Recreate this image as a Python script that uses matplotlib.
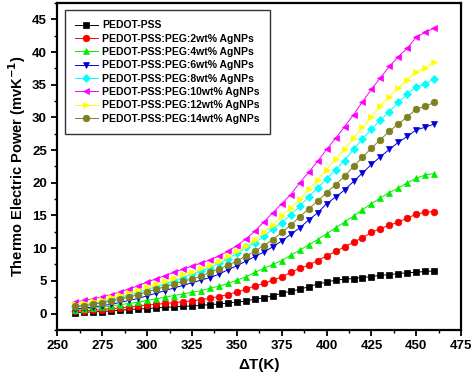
import matplotlib.pyplot as plt
from matplotlib.ticker import MultipleLocator

plt.rcParams['font.family'] = ['Liberation Sans', 'DejaVu Sans']
plt.rcParams['font.weight'] = 'bold'

# temperatura (roznica) - os x
dT = [260, 265, 270, 275, 280, 285, 290, 295, 300, 305, 310, 315, 320, 325,
      330, 335, 340, 345, 350, 355, 360, 365, 370, 375, 380, 385, 390, 395,
      400, 405, 410, 415, 420, 425, 430, 435, 440, 445, 450, 455, 460]

pedot = [0.15, 0.2, 0.25, 0.3, 0.4, 0.5, 0.6, 0.7, 0.75, 0.85, 0.95, 1.0, 1.1, 1.15,
         1.25, 1.35, 1.45, 1.6, 1.75, 1.9, 2.2, 2.4, 2.7, 3.1, 3.4, 3.7, 4.1, 4.5,
         4.8, 5.1, 5.25, 5.35, 5.5, 5.65, 5.85, 5.95, 6.1, 6.25, 6.3, 6.45, 6.5]
ag2 = [0.35, 0.45, 0.5, 0.6, 0.75, 0.85, 1.0, 1.15, 1.3, 1.4, 1.55, 1.65, 1.8, 1.95,
       2.1, 2.35, 2.6, 2.9, 3.3, 3.7, 4.2, 4.6, 5.1, 5.6, 6.3, 6.9, 7.4, 8.1,
       8.8, 9.5, 10.2, 10.9, 11.6, 12.4, 13.0, 13.5, 14.0, 14.6, 15.2, 15.5, 15.6]
ag4 = [0.6, 0.7, 0.8, 0.95, 1.15, 1.35, 1.55, 1.75, 2.0, 2.25, 2.5, 2.75, 3.0, 3.25,
       3.5, 3.85, 4.2, 4.6, 5.1, 5.6, 6.3, 6.9, 7.5, 8.1, 8.9, 9.7, 10.5, 11.3,
       12.2, 13.1, 14.0, 14.9, 15.9, 16.8, 17.7, 18.5, 19.2, 20.0, 20.7, 21.2, 21.4]
ag6 = [0.7, 0.85, 1.0, 1.2, 1.4, 1.7, 2.0, 2.3, 2.7, 3.1, 3.5, 3.9, 4.3, 4.7,
       5.1, 5.5, 6.0, 6.7, 7.3, 8.0, 8.7, 9.4, 10.2, 11.1, 12.1, 13.1, 14.3, 15.4,
       16.8, 17.8, 18.9, 20.2, 21.5, 22.8, 24.0, 25.1, 26.2, 27.1, 28.1, 28.5, 29.0]
ag8 = [1.2, 1.35, 1.55, 1.8, 2.1, 2.45, 2.8, 3.2, 3.65, 4.1, 4.55, 5.0, 5.5, 6.0,
       6.5, 7.0, 7.7, 8.4, 9.2, 10.1, 10.8, 11.8, 12.9, 13.9, 15.1, 16.4, 17.9, 19.2,
       20.6, 22.0, 23.4, 25.1, 26.7, 28.2, 29.6, 30.9, 32.3, 33.6, 34.7, 35.1, 35.9]
ag10 = [1.8, 2.0, 2.25, 2.55, 2.9, 3.3, 3.75, 4.25, 4.8, 5.3, 5.8, 6.3, 6.8, 7.25,
        7.7, 8.2, 8.8, 9.5, 10.4, 11.4, 12.6, 14.0, 15.4, 16.8, 18.2, 20.0, 21.6, 23.3,
        25.1, 26.8, 28.6, 30.4, 32.4, 34.3, 36.1, 37.8, 39.3, 40.6, 42.3, 43.0, 43.7]
ag12 = [1.45, 1.6, 1.85, 2.1, 2.45, 2.8, 3.2, 3.65, 4.1, 4.55, 5.0, 5.5, 6.0, 6.4,
        6.9, 7.4, 8.0, 8.8, 9.5, 10.3, 11.3, 12.4, 13.6, 14.9, 16.2, 17.5, 19.0, 20.5,
        22.0, 23.6, 25.2, 26.8, 28.5, 30.1, 31.8, 33.2, 34.5, 35.8, 37.0, 37.6, 38.5]
ag14 = [1.1, 1.2, 1.4, 1.65, 1.9, 2.2, 2.5, 2.9, 3.3, 3.7, 4.1, 4.5, 4.9, 5.3,
        5.7, 6.3, 6.8, 7.4, 8.0, 8.8, 9.5, 10.4, 11.3, 12.4, 13.5, 14.8, 16.0, 17.2,
        18.5, 19.7, 21.0, 22.5, 23.9, 25.3, 26.6, 27.9, 29.0, 30.1, 31.3, 31.7, 32.3]

labels = ["PEDOT-PSS",
          "PEDOT-PSS:PEG:2wt% AgNPs",
          "PEDOT-PSS:PEG:4wt% AgNPs",
          "PEDOT-PSS:PEG:6wt% AgNPs",
          "PEDOT-PSS:PEG:8wt% AgNPs",
          "PEDOT-PSS:PEG:10wt% AgNPs",
          "PEDOT-PSS:PEG:12wt% AgNPs",
          "PEDOT-PSS:PEG:14wt% AgNPs"]
series = [pedot, ag2, ag4, ag6, ag8, ag10, ag12, ag14]
colors = ['black', 'red', '#00ee00', '#0000dd', '#00ffff', '#ff00ff', '#ffff00', '#808020']
markers = ['s', 'o', '^', 'v', 'D', '<', '>', 'o']
sizes = [4.2, 4.8, 4.8, 4.8, 4.0, 4.8, 4.8, 4.8]

fig = plt.figure(figsize=(4.74, 3.80), dpi=100)
ax = fig.add_axes([0.121, 0.132, 0.852, 0.860])

for s, lab, c, m, ms in zip(series, labels, colors, markers, sizes):
    ax.plot(dT, s, color=c, marker=m, markersize=ms, markeredgewidth=0.5,
            linewidth=0.7, label=lab)

ax.set_xlim(250, 475)
ax.set_ylim(-2.5, 47.5)
ax.xaxis.set_major_locator(MultipleLocator(25))
ax.xaxis.set_minor_locator(MultipleLocator(12.5))
ax.yaxis.set_major_locator(MultipleLocator(5))
ax.yaxis.set_minor_locator(MultipleLocator(2.5))
ax.tick_params(which='major', direction='out', length=4, width=1.3, labelsize=9.5)
ax.tick_params(which='minor', direction='out', length=2.5, width=1.0)
for sp in ax.spines.values():
    sp.set_linewidth(1.6)

ax.set_xlabel("\u0394T(K)", fontsize=11, fontweight='bold')
ax.set_ylabel(r"Thermo Electric Power (mvK$^{\mathbf{-1}}$)", fontsize=10.5,
              fontweight='bold', labelpad=3)

leg = ax.legend(loc='upper left', fontsize=7.5, frameon=True, fancybox=False,
                edgecolor='black', handlelength=2.2, handletextpad=0.4,
                labelspacing=0.32, borderpad=1.0, bbox_to_anchor=(0.005, 0.995))
leg.get_frame().set_linewidth(1.0)

fig.savefig('out.png', dpi=100)
